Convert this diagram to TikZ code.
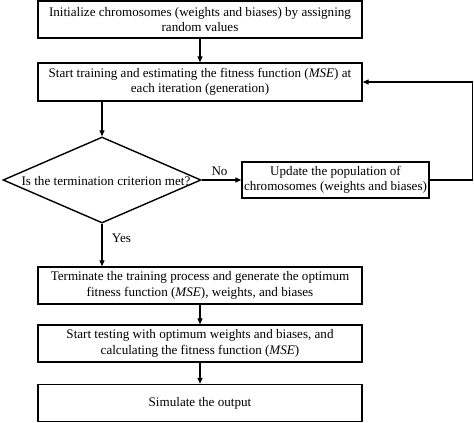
\documentclass[tikz,border=0pt]{standalone}
\usepackage{fontspec}
\setmainfont{Liberation Serif}
\usetikzlibrary{shapes.geometric,arrows.meta}
\begin{document}
\begin{tikzpicture}[x=1pt,y=-1pt,
  box/.style={draw,line width=1.4pt,minimum width=324pt,inner sep=0pt,align=center,font=\fontsize{13.1}{15.5}\selectfont},
  arr/.style={line width=1.2pt,-{Triangle[length=6pt,width=5pt]}},
  lbl/.style={font=\fontsize{13.1}{15.5}\selectfont}]
\useasboundingbox (0,0) rectangle (474,423);
\node[box,minimum height=37pt] (b1) at (200,19.5) {Initialize chromosomes (weights and biases) by assigning\\random values};
\node[box,minimum height=38pt] (b2) at (200,82) {Start training and estimating the fitness function (\textit{MSE}) at\\each iteration (generation)};
\node[draw,line width=1.4pt,diamond,minimum width=198pt,minimum height=86pt,inner sep=0pt,aspect=2.3,lbl] (d) at (102,180) {};
\node[lbl] at (106,181) {Is the termination criterion met?};
\node[box,minimum width=187pt,minimum height=36pt] (u) at (335.5,180) {Update the population of\\chromosomes (weights and biases)};
\node[box,minimum height=37pt] (b3) at (200,285.5) {Terminate the training process and generate the optimum\\fitness function (\textit{MSE}), weights, and biases};
\node[box,minimum height=37pt] (b4) at (200,343.5) {Start testing with optimum weights and biases, and\\calculating the fitness function (\textit{MSE})};
\node[box,minimum height=37pt] (b5) at (200,403) {Simulate the output};
\coordinate (c1) at (472.5,180);
\coordinate (c2) at (472.5,82);
\draw[arr] (b1.south) -- (b2.north);
\draw[arr] (b2.south -| d.north) -- (d.north);
\draw[arr] (d.east) -- node[lbl,above,pos=0.45] {No} (u.west);
\draw[arr] (u.east) -- (c1) -- (c2) -- (b2.east);
\draw[arr] (d.south) -- node[lbl,right,pos=0.35,xshift=6pt] {Yes} (d.south |- b3.north);
\draw[arr] (b3.south) -- (b4.north);
\draw[arr] (b4.south) -- (b5.north);
\end{tikzpicture}
\end{document}
